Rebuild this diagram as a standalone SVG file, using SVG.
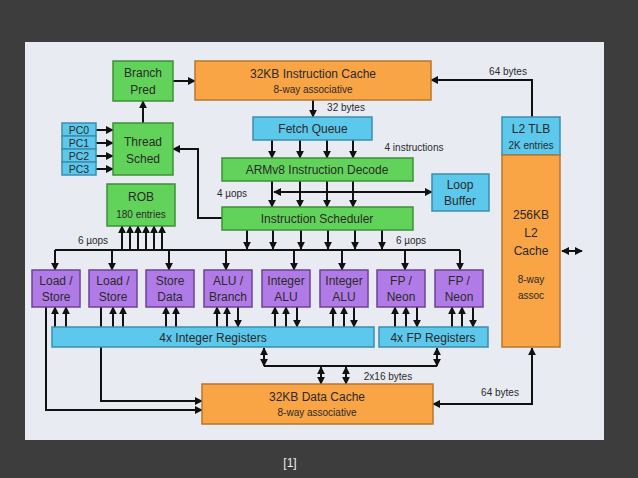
<svg xmlns="http://www.w3.org/2000/svg" width="638" height="478" viewBox="0 0 638 478">
<defs>
<marker id="a" viewBox="0 0 10 10" refX="9" refY="5" markerWidth="4" markerHeight="4" orient="auto-start-reverse"><path d="M0,0L10,5L0,10z" fill="#111"/></marker>
<style>
.g{fill:#62d35a;stroke:#3f8f3a;stroke-width:1.5}
.o{fill:#f9a445;stroke:#b8772c;stroke-width:1.5}
.b{fill:#5cc8ec;stroke:#3a8fb0;stroke-width:1.5}
.p{fill:#b07be6;stroke:#6c4296;stroke-width:1.5}
text{font-family:"Liberation Sans",Arial,sans-serif;fill:#2a2a2a;text-anchor:middle}
.t{font-size:12px}
.s{font-size:10px}
.l{font-size:10.5px}
#c path{fill:none;stroke:#111;stroke-width:2}
.m{marker-end:url(#a)}
.d{marker-start:url(#a);marker-end:url(#a)}
</style>
</defs>
<rect width="638" height="478" fill="#3d3d3d"/>
<rect x="25" y="42" width="579" height="398" fill="#e9ebf3"/>
<text x="290" y="467" style="fill:#eee;font-size:12px">[1]</text>

<g id="c">
<path class="m" d="M173,81H195"/>
<path class="m" d="M143,123V101"/>
<path class="m" d="M96,130H113"/><path class="m" d="M96,143H113"/><path class="m" d="M96,156H113"/><path class="m" d="M96,169H113"/>
<path class="m" d="M532,117V80H431"/>
<path class="m" d="M313,100V117"/>
<path class="m" d="M272,140V158"/><path class="m" d="M300,140V158"/><path class="m" d="M327,140V158"/><path class="m" d="M353,140V158"/>
<path class="m" d="M272,181V207"/><path class="m" d="M300,181V207"/><path class="m" d="M327,181V207"/><path class="m" d="M353,181V207"/>
<path class="d" d="M274,192H432"/>
<path class="m" d="M222,218H198V149H173"/>
<path class="m" d="M247,230V249"/><path class="m" d="M273,230V249"/><path class="m" d="M301,230V249"/><path class="m" d="M328,230V249"/><path class="m" d="M355,230V249"/><path class="m" d="M382,230V249"/>
<path d="M55,250H460"/>
<path class="m" d="M55,250V270"/><path class="m" d="M112,250V270"/><path class="m" d="M169,250V270"/><path class="m" d="M226,250V270"/><path class="m" d="M294,250V270"/><path class="m" d="M342,250V270"/><path class="m" d="M405,250V270"/><path class="m" d="M460,250V270"/>
<path class="m" d="M122,249V226"/><path class="m" d="M130,249V226"/><path class="m" d="M138,249V226"/><path class="m" d="M146,249V226"/><path class="m" d="M154,249V226"/><path class="m" d="M162,249V226"/>
<path class="m" d="M55,327V307"/><path class="m" d="M66,327V307"/>
<path class="m" d="M113,327V307"/><path class="m" d="M123,327V307"/>
<path class="m" d="M166,327V307"/><path class="m" d="M176,327V307"/>
<path class="m" d="M217,327V307"/><path class="m" d="M227,327V307"/><path class="m" d="M238,307V327"/>
<path class="m" d="M275,327V307"/><path class="m" d="M286,327V307"/><path class="m" d="M297,307V327"/>
<path class="m" d="M333,327V307"/><path class="m" d="M344,327V307"/><path class="m" d="M354,307V327"/>
<path class="m" d="M395,327V307"/><path class="m" d="M406,327V307"/><path class="m" d="M417,307V327"/>
<path class="m" d="M452,327V307"/><path class="m" d="M462,327V307"/><path class="m" d="M473,307V327"/>
<path class="m" d="M46,307V410H202"/>
<path class="m" d="M101,307V401H202"/>
<path class="d" d="M264,348V366"/><path class="d" d="M437,348V366"/>
<path d="M264,366H437"/>
<path class="d" d="M321,367V384"/><path class="d" d="M346,367V384"/>
<path class="d" d="M532,348V404H433"/>
<path class="d" d="M562,251H582"/>
</g>

<g id="bp"><rect class="g" x="113" y="61" width="60" height="40"/><text class="t" x="143" y="77">Branch</text><text class="t" x="143" y="94">Pred</text></g>
<g id="ic"><rect class="o" x="195" y="61" width="236" height="39"/><text class="t" x="313" y="78">32KB Instruction Cache</text><text class="s" x="313" y="93">8-way associative</text></g>
<g id="pc"><rect class="b" x="62" y="123" width="34" height="13"/><rect class="b" x="62" y="136" width="34" height="13"/><rect class="b" x="62" y="149" width="34" height="13"/><rect class="b" x="62" y="162" width="34" height="13"/>
<text class="l" x="79" y="134">PC0</text><text class="l" x="79" y="147">PC1</text><text class="l" x="79" y="160">PC2</text><text class="l" x="79" y="173">PC3</text></g>
<g id="ts"><rect class="g" x="113" y="123" width="60" height="52"/><text class="t" x="143" y="146">Thread</text><text class="t" x="143" y="163">Sched</text></g>
<g id="fq"><rect class="b" x="253" y="117" width="119" height="23"/><text class="t" x="313" y="133">Fetch Queue</text></g>
<text class="s" x="414" y="151">4 instructions</text>
<text class="s" x="346" y="111">32 bytes</text>
<text class="s" x="508" y="75">64 bytes</text>
<g id="dec"><rect class="g" x="222" y="158" width="191" height="23"/><text class="t" x="317" y="174">ARMv8 Instruction Decode</text></g>
<text class="s" x="232" y="197">4 µops</text>
<g id="lb"><rect class="b" x="432" y="174" width="57" height="37"/><text class="t" x="460" y="189">Loop</text><text class="t" x="460" y="205">Buffer</text></g>
<g id="rob"><rect class="g" x="107" y="184" width="68" height="42"/><text class="t" x="141" y="201">ROB</text><text class="s" x="141" y="218">180 entries</text></g>
<g id="sch"><rect class="g" x="222" y="207" width="191" height="23"/><text class="t" x="317" y="223">Instruction Scheduler</text></g>
<text class="s" x="93" y="244">6 µops</text>
<text class="s" x="411" y="244">6 µops</text>
<g id="tlb"><rect class="b" x="502" y="117" width="58" height="38"/><text class="t" x="531" y="133">L2 TLB</text><text class="s" x="531" y="149">2K entries</text></g>
<g id="l2"><rect class="o" x="502" y="155" width="58" height="192"/><text class="t" x="531" y="219">256KB</text><text class="t" x="531" y="237">L2</text><text class="t" x="531" y="255">Cache</text><text class="s" x="531" y="283">8-way</text><text class="s" x="531" y="299">assoc</text></g>
<g id="u1"><rect class="p" x="32" y="270" width="48" height="37"/><text class="t" x="56" y="285">Load /</text><text class="t" x="56" y="301">Store</text></g>
<g id="u2"><rect class="p" x="89" y="270" width="48" height="37"/><text class="t" x="113" y="285">Load /</text><text class="t" x="113" y="301">Store</text></g>
<g id="u3"><rect class="p" x="146" y="270" width="48" height="37"/><text class="t" x="170" y="285">Store</text><text class="t" x="170" y="301">Data</text></g>
<g id="u4"><rect class="p" x="204" y="270" width="48" height="37"/><text class="t" x="228" y="285">ALU /</text><text class="t" x="228" y="301">Branch</text></g>
<g id="u5"><rect class="p" x="262" y="270" width="48" height="37"/><text class="t" x="286" y="285">Integer</text><text class="t" x="286" y="301">ALU</text></g>
<g id="u6"><rect class="p" x="320" y="270" width="48" height="37"/><text class="t" x="344" y="285">Integer</text><text class="t" x="344" y="301">ALU</text></g>
<g id="u7"><rect class="p" x="377" y="270" width="48" height="37"/><text class="t" x="401" y="285">FP /</text><text class="t" x="401" y="301">Neon</text></g>
<g id="u8"><rect class="p" x="435" y="270" width="48" height="37"/><text class="t" x="459" y="285">FP /</text><text class="t" x="459" y="301">Neon</text></g>
<g id="ir"><rect class="b" x="52" y="327" width="322" height="20"/><text class="t" x="213" y="342">4x Integer Registers</text></g>
<g id="fr"><rect class="b" x="379" y="327" width="109" height="20"/><text class="t" x="433" y="342">4x FP Registers</text></g>
<text class="s" x="388" y="380">2x16 bytes</text>
<text class="s" x="500" y="396">64 bytes</text>
<g id="dc"><rect class="o" x="202" y="384" width="231" height="40"/><text class="t" x="317" y="401">32KB Data Cache</text><text class="s" x="317" y="416">8-way associative</text></g>
</svg>
